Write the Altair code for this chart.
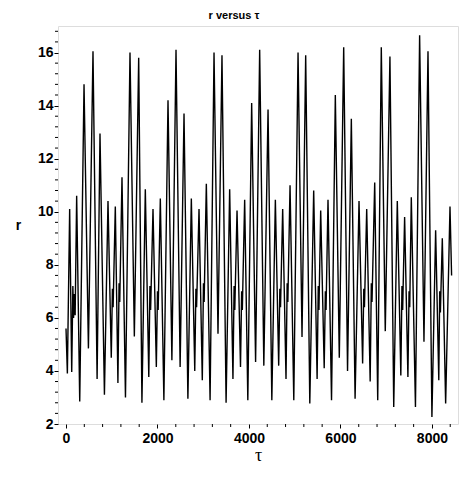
import altair as alt
import pandas as pd

# Values (peaks, troughs and small shoulders)
tau = [0, 30, 80, 125, 150, 165, 185, 200, 233, 300, 394, 490, 590, 680, 743, 840, 918,
       990, 1015, 1030, 1078, 1135, 1160, 1175, 1224, 1300, 1399, 1494, 1589, 1660,
       1734, 1810, 1835, 1850, 1902, 1975, 2000, 2015, 2062, 2140, 2230, 2315, 2405,
       2495, 2580, 2665, 2740, 2815, 2840, 2855, 2908, 2980, 3005, 3020, 3068, 3150,
       3236, 3323, 3410, 3500, 3578, 3650, 3675, 3690, 3739, 3815, 3840, 3855, 3906,
       3975, 4059, 4145, 4234, 4325, 4417, 4500, 4577, 4650, 4675, 4690, 4737, 4810,
       4835, 4850, 4898, 4980, 5073, 5160, 5240, 5330, 5415, 5490, 5515, 5530, 5568,
       5645, 5670, 5685, 5728, 5805, 5888, 5975, 6071, 6155, 6238, 6320, 6406, 6485,
       6510, 6525, 6574, 6650, 6675, 6690, 6749, 6815, 6893, 6980, 7082, 7165, 7243,
       7320, 7345, 7360, 7403, 7475, 7500, 7515, 7549, 7640, 7731, 7826, 7914, 8000,
       8081, 8150, 8170, 8185, 8227, 8300, 8395, 8430]
r = [5.6, 3.9, 10.1, 3.96, 7.2, 6.0, 6.9, 6.1, 10.6, 2.85, 14.8, 4.85, 16.05, 3.7, 12.95, 3.1, 10.4,
     4.5, 7.1, 6.4, 10.2, 3.55, 7.3, 6.6, 11.3, 3.0, 16.0, 5.3, 15.8, 2.8,
     10.85, 3.77, 7.2, 6.3, 10.1, 4.15, 7.0, 6.3, 10.5, 2.9, 14.2, 4.4, 16.1,
     4.15, 13.7, 2.95, 10.5, 4.0, 7.1, 6.4, 10.1, 3.65, 7.3, 6.6, 11.05, 2.9,
     16.0, 5.4, 15.9, 2.8, 10.85, 3.7, 7.2, 6.3, 10.05, 4.15, 7.0, 6.3, 10.45,
     2.9, 14.1, 4.34, 16.1, 4.2, 13.85, 2.9, 10.45, 4.2, 7.1, 6.4, 10.1, 3.7,
     7.3, 6.6, 11.0, 2.9, 16.0, 5.28, 15.9, 2.77, 10.8, 3.7, 7.2, 6.3, 10.05,
     4.1, 7.0, 6.3, 10.45, 2.9, 14.4, 4.5, 16.2, 4.0, 13.5, 2.95, 10.4, 4.28,
     7.1, 6.4, 10.1, 3.6, 7.3, 6.6, 11.1, 2.9, 16.2, 5.5, 15.85, 2.64, 10.4,
     3.83, 7.2, 6.3, 9.8, 3.77, 7.0, 6.4, 10.55, 2.64, 16.65, 5.1, 16.05, 2.26,
     9.3, 3.65, 7.0, 6.2, 9.0, 2.77, 10.2, 7.6]

x_major = [0, 2000, 4000, 6000, 8000]
y_major = [2, 4, 6, 8, 10, 12, 14, 16]
x_minor = [400, 800, 1200, 1600, 2400, 2800, 3200, 3600, 4400, 4800, 5200, 5600,
           6400, 6800, 7200, 7600, 8400]
y_minor = [2.4, 2.8, 3.2, 3.6, 4.4, 4.8, 5.2, 5.6, 6.4, 6.8, 7.2, 7.6, 8.4, 8.8, 9.2, 9.6,
           10.4, 10.8, 11.2, 11.6, 12.4, 12.8, 13.2, 13.6, 14.4, 14.8, 15.2, 15.6,
           16.4, 16.8]
title_text = ["r versus τ"]

W, H = 400, 398
df = pd.DataFrame({"tau": tau, "r": r})
xs = alt.Scale(domain=[-175, 8570], nice=False, zero=False)
ys = alt.Scale(domain=[2, 17], nice=False, zero=False)

label_style = dict(labelFont="Liberation Sans", labelFontSize=14, labelFontWeight="bold",
                   labelColor="black", tickColor="black", domain=False, grid=False,
                   tickSize=4)

line = alt.Chart(df).mark_line(color="black", strokeWidth=1.4).encode(
    x=alt.X("tau:Q", scale=xs,
            axis=alt.Axis(values=x_major, format="d", title="τ", labelPadding=3,
                          titleFont="Liberation Serif", titleFontSize=18,
                          titleFontWeight="normal", titleColor="black",
                          titleX=W / 2, titleY=36, titleBaseline="alphabetic",
                          **label_style)),
    y=alt.Y("r:Q", scale=ys,
            axis=alt.Axis(values=y_major, title="r", labelPadding=1,
                          titleAngle=0, titleX=-40, titleY=199, titleAlign="center",
                          titleBaseline="middle", titleFont="Liberation Sans",
                          titleFontSize=14, titleFontWeight="bold", titleColor="black",
                          **label_style)),
)

ymin = alt.Chart(pd.DataFrame({"v": y_minor})).mark_rule(color="black", strokeWidth=1).encode(
    y=alt.Y("v:Q", scale=ys), x=alt.value(-3), x2=alt.value(0))
xmin = alt.Chart(pd.DataFrame({"v": x_minor})).mark_rule(color="black", strokeWidth=1).encode(
    x=alt.X("v:Q", scale=xs), y=alt.value(H), y2=alt.value(H + 3))

title = alt.Chart(pd.DataFrame({"t": title_text})).mark_text(
    font="Liberation Sans", fontSize=11, fontWeight="bold", color="black",
    align="center", baseline="alphabetic").encode(
    text="t:N", x=alt.value(176), y=alt.value(-7))

chart = alt.layer(line, ymin, xmin, title).properties(
    width=W, height=H,
    autosize="none",
    padding={"left": 50, "top": 18, "right": 8, "bottom": 50},
).configure_view(stroke="#333", strokeWidth=1).configure(background="white")

chart.save("out.html", embed_options={"renderer": "svg", "actions": False})
